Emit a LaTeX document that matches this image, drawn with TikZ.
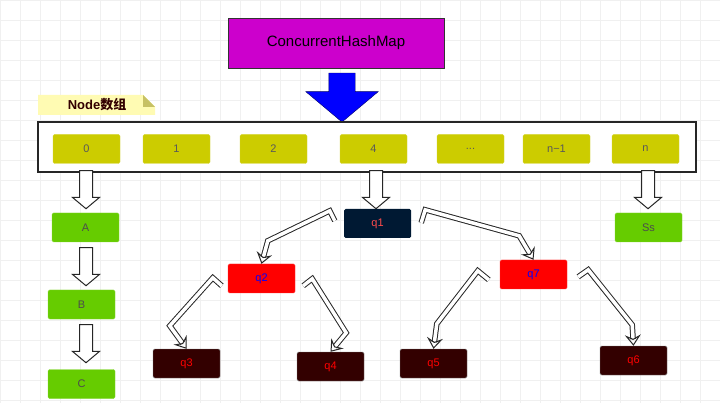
\documentclass[tikz,border=0pt]{standalone}
\usepackage{fontspec}
\setmainfont{Liberation Sans}
\newfontfamily\cjk{Noto Sans CJK SC}
\usetikzlibrary{shapes.arrows,arrows.meta,calc}
\definecolor{cellyel}{HTML}{CCCC00}
\definecolor{leafgrn}{HTML}{66CC00}
\definecolor{rootblk}{HTML}{001933}
\definecolor{leafred}{HTML}{330000}
\definecolor{mapmag}{HTML}{CC00CC}
\tikzset{
box/.style={rectangle,rounded corners=1.5pt,minimum width=67pt,minimum height=29pt,inner sep=0pt,font=\fontsize{11}{12}\selectfont},
cell/.style={box,fill=cellyel,draw=cellyel!80!white,text=gray!70!black},
leaf/.style={box,fill=leafgrn,draw=leafgrn!80!white,text=gray!60!black},
tnode/.style={box,fill=rootblk,text=red!70!white},
rnode/.style={box,fill=red,draw=red!80!white,text=blue},
dnode/.style={box,fill=leafred,draw=gray,text=red},
down/.style={single arrow,draw=gray!30!black,fill=white,line width=1pt,rotate=-90,
  minimum height=38pt,inner sep=6pt,single arrow head extend=7pt,single arrow tip angle=100},
hollow/.style={draw=gray!30!black,double=white,double distance=3.5pt,line width=1pt,
  -{Stealth[open,length=11pt,width=16pt,inset=4pt]}}
}
\begin{document}
\begin{tikzpicture}[x=1pt,y=-1pt]
\useasboundingbox (0,0) rectangle (720,403);
\draw[gray!12] (0,0) grid[step=20pt] (720,403);
% map and array
\node[rectangle,fill=mapmag,draw=gray!40!black,minimum width=216pt,minimum height=50pt,font=\fontsize{15}{16}\selectfont] (map) at (336,43) {ConcurrentHashMap};
\node[single arrow,fill=blue,draw=blue!40!black,rotate=-90,minimum height=49pt,inner sep=13pt,single arrow head extend=23pt,single arrow tip angle=100] (big) at (342,92) {};
\draw[line width=1.2pt,gray!30!black,fill=white] (38,122) rectangle (696,172);
\fill[yellow!30] (38,95) -- (143,95) -- (155,107) -- (155,115) -- (38,115) -- cycle;
\fill[yellow!50!gray] (143,95) -- (155,107) -- (143,107) -- cycle;
\node[font=\bfseries\fontsize{13}{14}\selectfont,text=black!80!red] (note) at (97,105) {Node{\cjk 数组}};
\node[cell] (c0) at (86.5,149) {0};
\node[cell] (c1) at (176.5,149) {1};
\node[cell] (c2) at (273.5,149) {2};
\node[cell] (c4) at (373.5,149) {4};
\node[cell] (cd) at (470.5,149) {...};
\node[cell] (cm) at (556.5,149) {n\textminus1};
\node[cell] (cn) at (645.5,149) {n};
% chains
\node[leaf] (A) at (85.5,227.5) {A};
\node[leaf] (B) at (81.5,304.5) {B};
\node[leaf] (C) at (81.5,384) {C};
\node[leaf] (Ss) at (648.5,227.5) {Ss};
\node[down] (dA) at (86,187) {};
\node[down] (dB) at (86,264) {};
\node[down] (dC) at (86,341) {};
\node[down] (dq) at (376,187) {};
\node[down] (dS) at (648,187) {};
% tree
\node[tnode] (q1) at (377.5,223.5) {q1};
\node[rnode] (q2) at (261.5,278.5) {q2};
\node[rnode] (q7) at (533.5,274.5) {q7};
\node[dnode] (q3) at (186.5,363.5) {q3};
\node[dnode] (q4) at (330.5,366.5) {q4};
\node[dnode] (q5) at (433.5,363.5) {q5};
\node[dnode] (q6) at (633.5,360.5) {q6};
\draw[hollow] ($(q1.north west)+(-9,12)$) -- ++(-5,-10) -- ++(-62,30) -- (q2.north);
\draw[hollow] ($(q1.north east)+(10,14)$) -- ++(4,-13) -- ++(94,26) -- (q7.north);
\draw[hollow] ($(q2.north west)+(-6,22)$) -- ++(-9,-8) -- ++(-43,48) -- (q3.north);
\draw[hollow] ($(q2.north east)+(8,22)$) -- ++(9,-7) -- ++(34,54) -- (q4.north);
\draw[hollow] ($(q7.north west)+(-11,20)$) -- ++(-11,-9) -- ++(-41,53) -- (q5.north);
\draw[hollow] ($(q7.north east)+(11,17)$) -- ++(10,-7) -- ++(44,55) -- (q6.north);
\end{tikzpicture}
\end{document}
